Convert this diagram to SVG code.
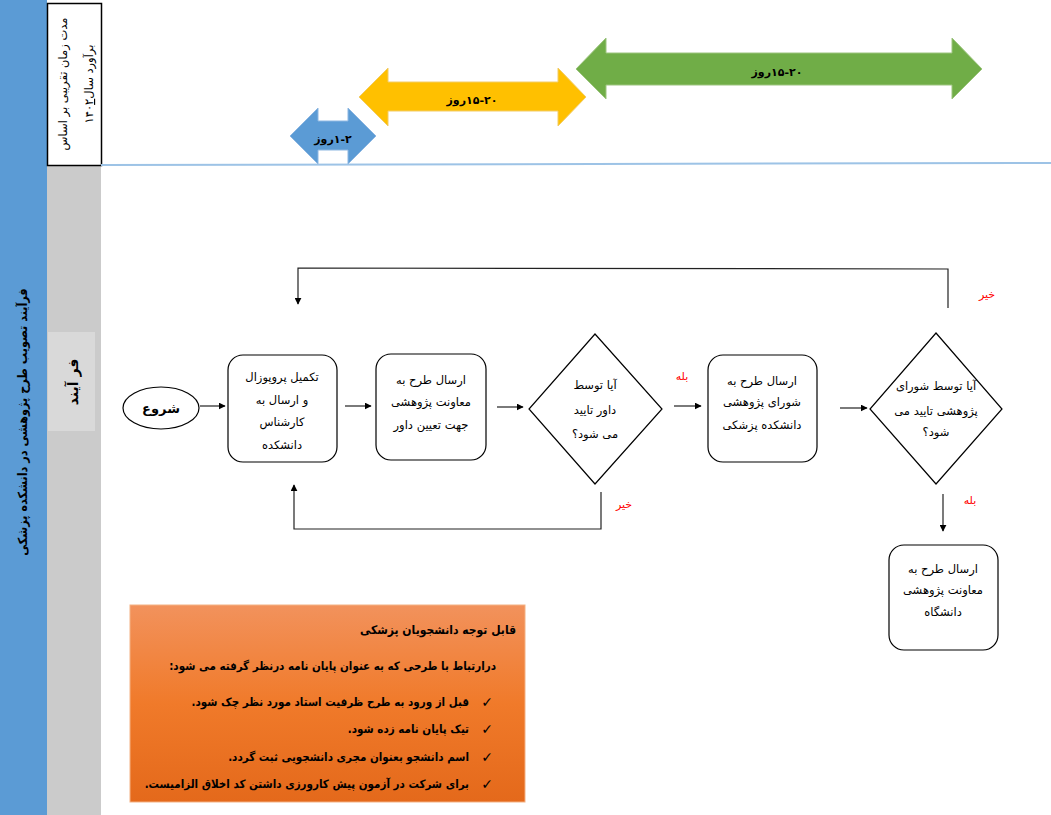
<svg xmlns="http://www.w3.org/2000/svg" width="1051" height="815" viewBox="0 0 1051 815">
<defs>
<style>
.t{font-family:"DejaVu Sans","Noto Sans",sans-serif;font-size:11.5px;fill:#000;direction:rtl;text-anchor:middle}
.c{font-family:"DejaVu Sans Condensed","DejaVu Sans",sans-serif}
.b{font-weight:bold}
.red{fill:#FF0000;font-size:11px}
.box{fill:#fff;stroke:#000;stroke-width:1.2}
.ln{fill:none;stroke:#222;stroke-width:1.2}
.or{font-family:"DejaVu Sans Condensed","DejaVu Sans",sans-serif;font-size:11.5px;font-weight:bold;fill:#000;direction:rtl;text-anchor:start}
.ck{font-family:"DejaVu Sans",sans-serif;font-size:14px;fill:#000;text-anchor:middle}
</style>
<marker id="ah" viewBox="0 0 10 10" refX="9" refY="5" markerWidth="7" markerHeight="7" orient="auto" markerUnits="userSpaceOnUse">
<path d="M0,0 L10,5 L0,10 Z" fill="#000"/>
</marker>
<linearGradient id="og" x1="0" y1="0" x2="0" y2="1">
<stop offset="0" stop-color="#F2925C"/>
<stop offset="0.5" stop-color="#F07A2A"/>
<stop offset="1" stop-color="#E4691B"/>
</linearGradient>
</defs>
<rect x="0" y="0" width="1051" height="815" fill="#fff"/>
<g id="lanes">
<rect x="0" y="0" width="47" height="815" fill="#5B9BD5"/>
<rect x="47" y="166" width="54" height="649" fill="#CBCBCB"/>
<rect x="48" y="332" width="47" height="99" fill="#D9D9D9"/>
<rect x="47.5" y="3.5" width="54" height="162" fill="#fff" stroke="#000" stroke-width="1.5"/>
<line x1="101" y1="165" x2="1051" y2="163" stroke="#9DC3E6" stroke-width="2"/>
<text class="t c b" transform="translate(27,422) rotate(-90)" style="font-size:12.5px">فرآیند تصویب طرح پژوهشی در دانشکده پزشکی</text>
<text class="t b" transform="translate(78,382) rotate(-90)" style="font-size:14px">فر آیند</text>
<text class="t" transform="translate(67,84) rotate(-90)" style="font-size:11.5px">مدت زمان تقریبی بر اساس</text>
<text class="t" transform="translate(93,84) rotate(-90)" style="font-size:11.5px">برآورد سال۱۴۰<tspan text-decoration="underline">۲</tspan></text>
</g>
<g id="timeline">
<path d="M576,69 L606,38 L606,53 L952,53 L952,38 L982,69 L952,99 L952,85 L606,85 L606,99 Z" fill="#70AD47" stroke="#9CC47E" stroke-width="1"/>
<path d="M359,97 L388,68 L388,82 L558,82 L558,68 L586,97 L558,126 L558,111 L388,111 L388,126 Z" fill="#FFC000" stroke="#F2CC66" stroke-width="1"/>
<path d="M290,136 L318,108 L318,121 L348,121 L348,108 L376,136 L348,164 L348,150 L318,150 L318,164 Z" fill="#5B9BD5" stroke="#8DB7E2" stroke-width="1"/>
<text class="t b" x="777" y="76" style="font-size:11px">۱۵-۲۰روز</text>
<text class="t b" x="472" y="104" style="font-size:11px">۱۵-۲۰روز</text>
<text class="t b" x="333" y="143" style="font-size:11px">۱-۲روز</text>
</g>
<g id="connectors">
<line class="ln" x1="200" y1="406" x2="225" y2="406" marker-end="url(#ah)"/>
<line class="ln" x1="345" y1="406" x2="371" y2="406" marker-end="url(#ah)"/>
<line class="ln" x1="497" y1="407" x2="523" y2="407" marker-end="url(#ah)"/>
<line class="ln" x1="674" y1="406" x2="701" y2="406" marker-end="url(#ah)"/>
<line class="ln" x1="840" y1="408" x2="867" y2="408" marker-end="url(#ah)"/>
<line class="ln" x1="943" y1="494" x2="943" y2="531" marker-end="url(#ah)"/>
<polyline class="ln" points="601,492 601,529 294,529 294,485" marker-end="url(#ah)"/>
<polyline class="ln" points="948,308 948,269 298,268 298,304" marker-end="url(#ah)"/>
<text class="t red" x="682" y="380">بله</text>
<text class="t red" x="624" y="508">خیر</text>
<text class="t red" x="970" y="504">بله</text>
<text class="t red" x="987" y="298">خیر</text>
</g>
<g id="start">
<ellipse cx="161" cy="408" rx="38" ry="21" class="box"/>
<text class="t b" x="161" y="413" style="font-size:13px">شروع</text>
</g>
<g id="n1">
<rect x="228" y="355" width="109" height="107" rx="15" class="box"/>
<text class="t" x="282" y="381">تکمیل پروپوزال</text>
<text class="t" x="282" y="404">و ارسال به</text>
<text class="t" x="282" y="426">کارشناس</text>
<text class="t" x="282" y="449">دانشکده</text>
</g>
<g id="n2">
<rect x="376" y="354" width="110" height="106" rx="15" class="box"/>
<text class="t" x="431" y="384">ارسال طرح به</text>
<text class="t" x="431" y="406">معاونت پژوهشی</text>
<text class="t" x="431" y="429">جهت تعیین داور</text>
</g>
<g id="d1">
<polygon points="595,334 662,409 595,484 529,409" class="box"/>
<text class="t" x="595" y="389">آیا توسط</text>
<text class="t" x="595" y="414">داور تایید</text>
<text class="t" x="595" y="438">می شود؟</text>
</g>
<g id="n3">
<rect x="708" y="355" width="109" height="107" rx="15" class="box"/>
<text class="t" x="762" y="385">ارسال طرح به</text>
<text class="t" x="762" y="406">شورای پژوهشی</text>
<text class="t" x="762" y="429">دانشکده پزشکی</text>
</g>
<g id="d2">
<polygon points="936,333 1002,409 936,484 870,409" class="box"/>
<text class="t" x="936" y="390">آیا توسط شورای</text>
<text class="t" x="936" y="415">پژوهشی تایید می</text>
<text class="t" x="936" y="436">شود؟</text>
</g>
<g id="n4">
<rect x="889" y="545" width="109" height="105" rx="15" class="box"/>
<text class="t" x="943" y="573">ارسال طرح به</text>
<text class="t" x="943" y="594">معاونت پژوهشی</text>
<text class="t" x="943" y="616">دانشگاه</text>
</g>
<g id="note">
<rect x="130" y="605" width="395" height="197" fill="url(#og)" stroke="#F4B183" stroke-width="1"/>
<text class="or" x="516" y="634" style="font-size:12px">قابل توجه دانشجویان پزشکی</text>
<text class="or" x="496" y="670">درارتباط با  طرحی که به عنوان پایان نامه درنظر گرفته می شود:</text>
<text class="ck" x="487" y="707">✓</text>
<text class="or" x="469" y="706">قبل از ورود به طرح ظرفیت استاد مورد نظر چک شود.</text>
<text class="ck" x="487" y="734">✓</text>
<text class="or" x="469" y="733">تیک پایان نامه زده شود.</text>
<text class="ck" x="487" y="762">✓</text>
<text class="or" x="469" y="761">اسم دانشجو بعنوان مجری دانشجویی ثبت گردد.</text>
<text class="ck" x="487" y="789">✓</text>
<text class="or" x="469" y="788">برای شرکت در  آزمون پیش کارورزی داشتن کد اخلاق الزامیست.</text>
</g>
</svg>
